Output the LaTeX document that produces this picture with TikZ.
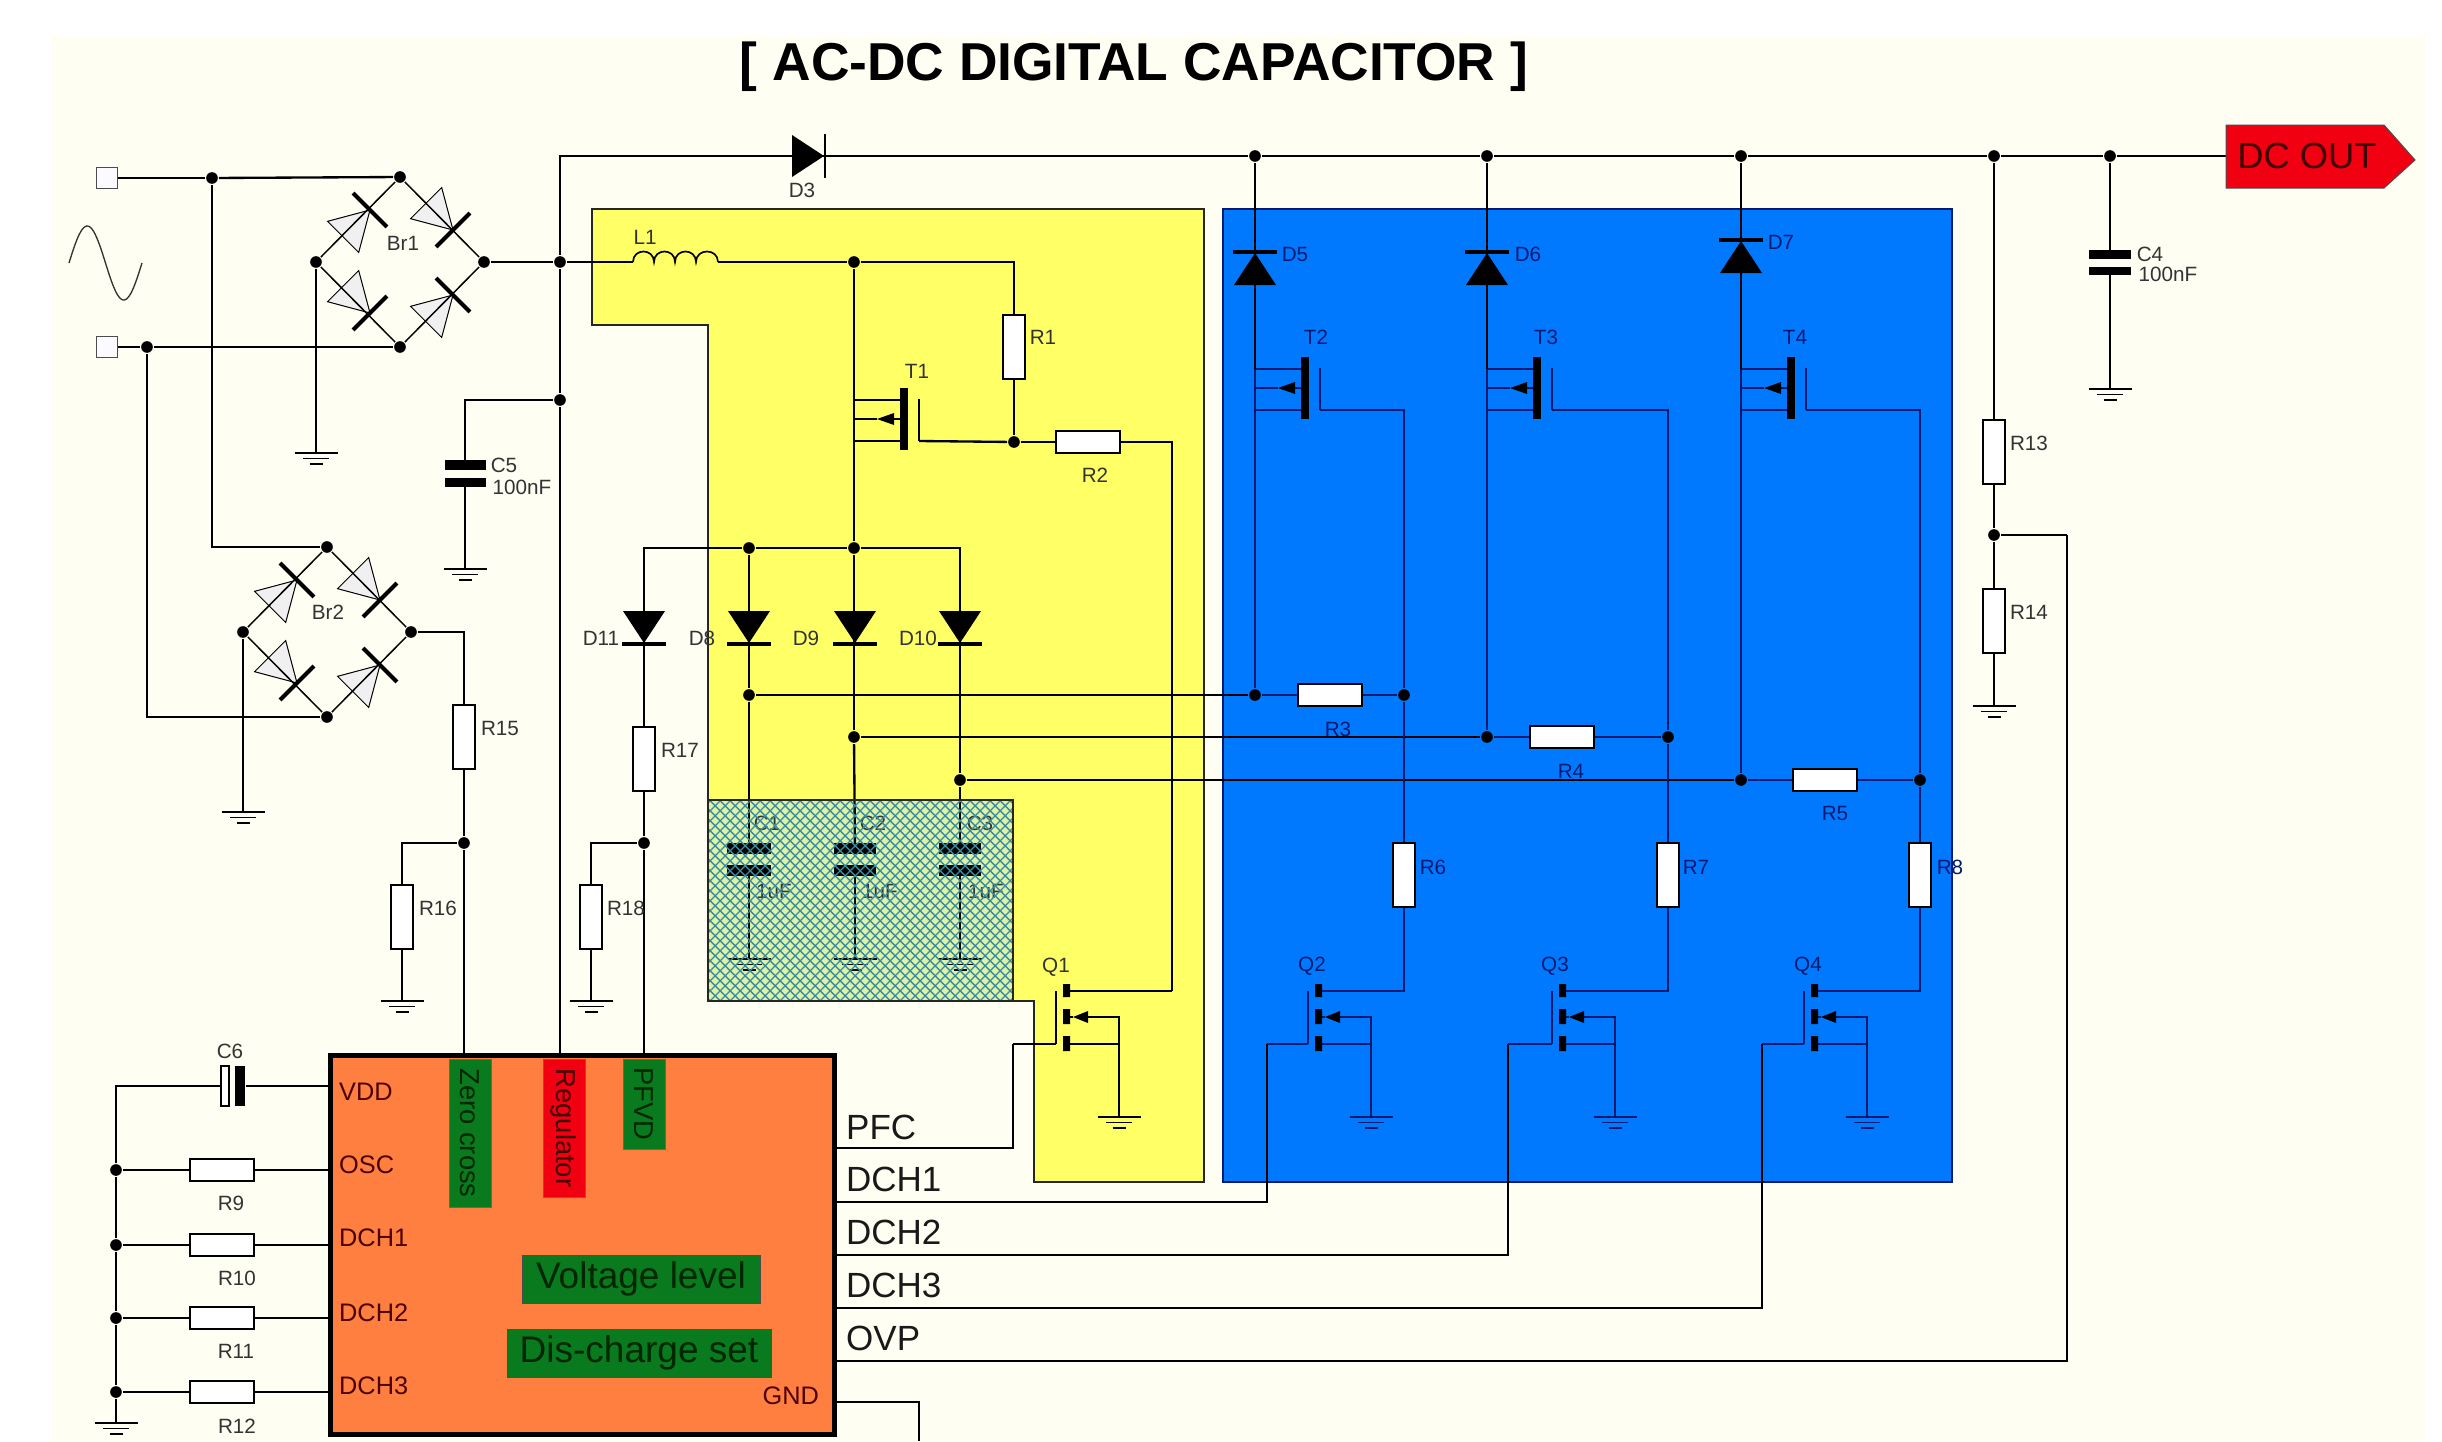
\documentclass[tikz,border=0pt]{standalone}
\usepackage{fontspec}
\setmainfont{Liberation Sans}
\usepackage{xcolor}
\usetikzlibrary{patterns}

\definecolor{cream}{HTML}{FEFEF2}
\definecolor{padyellow}{HTML}{FFFF66}
\definecolor{padblue}{HTML}{0079FF}
\definecolor{padhatch}{HTML}{DDF4A8}
\definecolor{hatchline}{HTML}{3A8AA0}
\definecolor{chiporange}{HTML}{FF7F40}
\definecolor{boxgreen}{HTML}{0A7A1E}
\definecolor{boxred}{HTML}{F00010}
\definecolor{navy}{HTML}{001A70}
\definecolor{labelgrey}{HTML}{333333}

\tikzset{
  hv/.style={to path={-| (\tikztotarget)}},
  vh/.style={to path={|- (\tikztotarget)}},
  pics/gnd/.style={code={
    \coordinate (-t) at (0,0);
    \draw[line width=.5pt] (-21.5,0) -- (21.5,0) (-13,5.5) -- (13,5.5) (-6.5,11) -- (6.5,11);
  }},
  pics/dio/.style={code={
    \fill (-21,0) -- (21,0) -- (0,32) -- cycle;
    \draw[line width=#1] (-22,33) -- (22,33);
  }},
  pics/capv/.style n args={3}{code={
    \coordinate (-a) at (0,-#3);
    \coordinate (-b) at (0,#3);
    \fill[black] (-#1,-#3) rectangle (#1,-#3-#2);
    \fill[black] (-#1,#3) rectangle (#1,#3+#2);
  }},
  pics/pfet/.style={code={
    \coordinate (-in) at (0,0);
    \coordinate (-low) at (0,41);
    \coordinate (-out) at (65,41);
    \draw (0,0) -- (46,0) (0,0) -- (0,41) -- (46,41) (0,19) -- (23,19) (40,19) -- (46,19);
    \fill[black] (23,19) -- (40,13) -- (40,25) -- cycle;
    \fill[black] (46,-12) rectangle (54,50);
    \draw (65,-1) -- (65,41);
  }},
  pics/nfet/.style={code={
    \coordinate (-d) at (14,0);
    \coordinate (-g) at (0,53);
    \coordinate (-b) at (63,26);
    \draw (0,0) -- (0,53) (14,53) -- (63,53) -- (63,26) -- (32,26) (14,26) -- (17,26);
    \fill[black] (17,26) -- (32,20) -- (32,32) -- cycle;
    \fill[black] (7,-7) rectangle (14,6) (7,18) rectangle (14,33) (7,45) rectangle (14,60);
  }},
  pics/brtri/.style={code={
    \draw[line width=.3pt, fill=gray!12] (0,0) -- (-38,-22) -- (-38,22) -- cycle;
  }},
  pics/brbar/.style={code={
    \draw[line width=1.2pt] (0,-24) -- (0,24);
  }},
  pics/bridge/.style={code={
    \pic[rotate=45] at (-30,-52) {brtri};
    \pic[rotate=-45] at (53,-32) {brtri};
    \pic[rotate=-45] at (-30,51) {brtri};
    \pic[rotate=45] at (53,33) {brtri};
    \node[dot] (-t) at (0,-85) {};
    \node[dot] (-l) at (-84,0) {};
    \node[dot] (-r) at (84,0) {};
    \node[dot] (-b) at (0,85) {};
    \path[line width=.45pt] (-t) edge (-l) (-l) edge (-b) (-b) edge (-r) (-r) edge (-t);
    \pic[rotate=45] at (-30,-52) {brbar};
    \pic[rotate=-45] at (53,-32) {brbar};
    \pic[rotate=-45] at (-30,51) {brbar};
    \pic[rotate=45] at (53,33) {brbar};
  }},
}

\begin{document}
\begin{tikzpicture}[x=0.3pt, y=-0.3pt, line width=.7pt, line join=miter]
\tikzstyle{dot}=[circle, fill=black, inner sep=0pt, minimum size=3.5pt]
\tikzstyle{resv}=[rectangle, draw, fill=white, line width=.5pt, inner sep=0pt, minimum width=6.6pt, minimum height=19.2pt]
\tikzstyle{resh}=[rectangle, draw, fill=white, line width=.5pt, inner sep=0pt, minimum width=19.2pt, minimum height=6.6pt]
\tikzstyle{lbl}=[inner sep=0pt, text=labelgrey, font=\fontsize{6.2}{7}\selectfont]
\tikzstyle{lblb}=[inner sep=0pt, text=navy, font=\fontsize{6.2}{7}\selectfont]
\tikzstyle{pinl}=[inner sep=0pt, anchor=west, text=black!70!red, font=\fontsize{7.6}{9}\selectfont]
\tikzstyle{outl}=[inner sep=0pt, anchor=west, text=black!90, font=\fontsize{10.5}{12}\selectfont]
\tikzstyle{vbox}=[rectangle, draw=black!60, line width=.3pt, rotate=-90, inner sep=0pt, minimum height=12.6pt, font=\fontsize{8.2}{10}\selectfont]
\tikzstyle{hbox}=[rectangle, draw=black!70, line width=.3pt, fill=boxgreen, text=black!85!green, inner sep=0pt, minimum height=14.4pt, font=\fontsize{11.1}{13}\selectfont]
\tikzstyle{term}=[rectangle, draw=black!70, fill=blue!2, line width=.4pt, inner sep=0pt, minimum size=6.3pt]

\useasboundingbox (0,0) rectangle (2442,1441);
\fill[white] (0,0) rectangle (2442,1441);
\fill[cream] (51,35) rectangle (2426,1441);
\draw[line width=.5pt, draw=black!85, fill=padyellow] (592,209) -- (1204,209) -- (1204,1182) -- (1034,1182) -- (1034,1001) -- (708,1001) -- (708,325) -- (592,325) -- cycle;
\draw[line width=.5pt, draw=navy, fill=padblue] (1223,209) rectangle (1952,1182);
\fill[padhatch] (708,800) rectangle (1013,1001);

\node[lbl, font=\bfseries\fontsize{16}{18}\selectfont, text=black] (title) at (1134,67) {[ AC-DC DIGITAL CAPACITOR ]};

\draw[line width=.4pt, draw=black!80] plot[domain=0:360, samples=60] ({69+\x/360*73},{263-37*sin(\x)});

\node[term] (inA) at (107,178) {};
\node[term] (inB) at (107,347) {};
\node[dot] (j1) at (212,178) {};
\node[dot] (j2) at (147,347) {};
\pic (Br1) at (400,262) {bridge};
\pic (Br2) at (327,632) {bridge};
\node[lbl] (lBr1) at (403,243) {Br1};
\node[lbl] (lBr2) at (328,612) {Br2};

\node[dot] (jm) at (560,262) {};
\node[dot] (j5) at (560,400) {};
\node[dot] (j7) at (854,262) {};
\node[dot] (j8) at (1014,442) {};
\node[dot] (j9) at (854,548) {};
\node[dot] (j10) at (749,548) {};
\node[dot] (j12) at (960,780) {};
\node[dot] (j13) at (749,695) {};
\node[dot] (j14) at (854,737) {};
\node[dot] (j15) at (464,843) {};
\node[dot] (j16) at (644,843) {};
\node[dot] (n1) at (1255,156) {};
\node[dot] (n2) at (1487,156) {};
\node[dot] (n3) at (1741,156) {};
\node[dot] (n4) at (1994,156) {};
\node[dot] (n5) at (2110,156) {};
\node[dot] (n6) at (1255,695) {};
\node[dot] (n7) at (1404,695) {};
\node[dot] (n8) at (1487,737) {};
\node[dot] (n9) at (1668,737) {};
\node[dot] (n10) at (1741,780) {};
\node[dot] (n11) at (1920,780) {};
\node[dot] (n12) at (1994,535) {};
\node[dot] (jL1) at (116,1170) {};
\node[dot] (jL2) at (116,1245) {};
\node[dot] (jL3) at (116,1318) {};
\node[dot] (jL4) at (116,1392) {};

\node[resv] (R1) at (1014,347) {};
\node[resh] (R2) at (1088,442) {};
\node[resh] (R3) at (1330,695) {};
\node[resh] (R4) at (1562,737) {};
\node[resh] (R5) at (1825,780) {};
\node[resv] (R6) at (1404,875) {};
\node[resv] (R7) at (1668,875) {};
\node[resv] (R8) at (1920,875) {};
\node[resh] (R9) at (222,1170) {};
\node[resh] (R10) at (222,1245) {};
\node[resh] (R11) at (222,1318) {};
\node[resh] (R12) at (222,1392) {};
\node[resv] (R13) at (1994,452) {};
\node[resv] (R14) at (1994,621) {};
\node[resv] (R15) at (464,737) {};
\node[resv] (R16) at (402,917) {};
\node[resv] (R17) at (644,759) {};
\node[resv] (R18) at (591,917) {};

\node[rectangle, draw, fill=white, line width=.4pt, inner sep=0pt, minimum width=2.4pt, minimum height=12pt] (C6a) at (225,1086) {};
\node[rectangle, fill=black, inner sep=0pt, minimum width=3pt, minimum height=12pt] (C6b) at (240,1086) {};

\pic (C1) at (749,859.5) {capv={22}{11}{5.5}};
\pic (C2) at (855,859.5) {capv={21}{11}{5.5}};
\pic (C3) at (960,859.5) {capv={21}{11}{5.5}};
\pic (C4) at (2110,262.5) {capv={21}{8.5}{4}};
\pic (C5) at (465,473.5) {capv={20.5}{9.5}{4}};

\pic (T1) at (854,400) {pfet};
\pic[color=navy] (T2) at (1255,369) {pfet};
\pic[color=navy] (T3) at (1487,369) {pfet};
\pic[color=navy] (T4) at (1741,369) {pfet};
\pic (Q1) at (1056,991) {nfet};
\pic[color=navy] (Q2) at (1308,991) {nfet};
\pic[color=navy] (Q3) at (1552,991) {nfet};
\pic[color=navy] (Q4) at (1804,991) {nfet};

\pic (G1) at (316,453) {gnd};
\pic (G2) at (243,812) {gnd};
\pic (G3) at (465,569) {gnd};
\pic (G4) at (402,1001) {gnd};
\pic (G5) at (591,1001) {gnd};
\pic (G6) at (116,1423) {gnd};
\pic (G7) at (749,959) {gnd};
\pic (G8) at (855,959) {gnd};
\pic (G9) at (960,959) {gnd};
\pic (G10) at (1119,1117) {gnd};
\pic[color=navy] (G11) at (1371,1117) {gnd};
\pic[color=navy] (G12) at (1615,1117) {gnd};
\pic[color=navy] (G13) at (1867,1117) {gnd};
\pic (G14) at (2110,389) {gnd};
\pic (G15) at (1994,706) {gnd};

\coordinate (L1a) at (633,262);
\coordinate (L1b) at (718,262);
\coordinate (Q1bend) at (1172,991);
\coordinate (bQ1) at (1013,1044);
\coordinate (bQ2) at (1267,1044);
\coordinate (bQ3) at (1508,1044);
\coordinate (bQ4) at (1762,1044);
\coordinate (bOVP) at (2067,535);
\coordinate (gndend) at (919,1441);
\coordinate (dcin) at (2226,156);
\coordinate (pinZ) at (464,1055);
\coordinate (pinR) at (560,1055);
\coordinate (pinP) at (644,1055);
\coordinate (pinVDD) at (330,1086);
\coordinate (pinOSC) at (330,1170);
\coordinate (pinD1) at (330,1245);
\coordinate (pinD2) at (330,1318);
\coordinate (pinD3) at (330,1392);
\coordinate (pinPFC) at (834,1148);
\coordinate (pinDCH1) at (834,1202);
\coordinate (pinDCH2) at (834,1255);
\coordinate (pinDCH3) at (834,1308);
\coordinate (pinOVP) at (834,1361);
\coordinate (pinGND) at (834,1402);

\path
(inA) edge (j1)
(j1) edge (Br1-t)
(inB) edge (j2)
(j2) edge (Br1-b)
(j1) edge[vh] (Br2-t)
(j2) edge[vh] (Br2-b)
(Br1-l) edge (G1-t)
(Br2-l) edge (G2-t)
(Br1-r) edge (jm)
(jm) edge (L1a)
(jm) edge[vh] (n1)
(jm) edge (j5)
(j5) edge (pinR)
(j5) edge[hv] (C5-a)
(C5-b) edge (G3-t)
(Br2-r) edge[hv] (R15)
(R15) edge (j15)
(j15) edge (pinZ)
(j15) edge[hv] (R16)
(R16) edge (G4-t)
(j16) edge (pinP)
(j16) edge[hv] (R18)
(R18) edge (G5-t)
(R17) edge (j16)

(L1b) edge (j7)
(j7) edge[hv] (R1)
(R1) edge (j8)
(j7) edge (T1-in)
(T1-low) edge (j9)
(T1-out) edge (j8)
(j8) edge (R2)
(R2) edge[hv] (Q1bend)
(Q1bend) edge (Q1-d)
(Q1-b) edge (G10-t)
(pinPFC) edge[hv] (bQ1)
(bQ1) edge (Q1-g)

(j9) edge (j10)
(j10) edge[hv] (R17)
(j9) edge[hv] (j12)
(j10) edge (j13)
(j9) edge (j14)
(j13) edge (C1-a)
(j14) edge (C2-a)
(j12) edge (C3-a)
(C1-b) edge (G7-t)
(C2-b) edge (G8-t)
(C3-b) edge (G9-t)

(j13) edge (n6)
(j14) edge (n8)
(j12) edge (n10)
(n1) edge (T2-in)
(n2) edge (T3-in)
(n3) edge (T4-in)
(pinDCH1) edge[hv] (bQ2)
(pinDCH2) edge[hv] (bQ3)
(pinDCH3) edge[hv] (bQ4)

(n1) edge (n2)
(n2) edge (n3)
(n3) edge (n4)
(n4) edge (n5)
(n5) edge (dcin)
(n5) edge (C4-a)
(C4-b) edge (G14-t)
(n4) edge (R13)
(R13) edge (n12)
(n12) edge (R14)
(R14) edge (G15-t)
(pinOVP) edge[hv] (bOVP)
(bOVP) edge (n12)
(pinGND) edge[hv] (gndend)

(C6a) edge[hv] (jL1)
(C6b) edge (pinVDD)
(jL1) edge (jL2)
(jL2) edge (jL3)
(jL3) edge (jL4)
(jL4) edge (G6-t)
(jL1) edge (R9)
(jL2) edge (R10)
(jL3) edge (R11)
(jL4) edge (R12)
(R9) edge (pinOSC)
(R10) edge (pinD1)
(R11) edge (pinD2)
(R12) edge (pinD3);

\path[color=navy]
(n6) edge (R3)
(R3) edge (n7)
(n8) edge (R4)
(R4) edge (n9)
(n10) edge (R5)
(R5) edge (n11)
(T2-low) edge (n6)
(T3-low) edge (n8)
(T4-low) edge (n10)
(T2-out) edge[hv] (n7)
(T3-out) edge[hv] (n9)
(T4-out) edge[hv] (n11)
(n7) edge (R6)
(n9) edge (R7)
(n11) edge (R8)
(R6) edge[vh] (Q2-d)
(R7) edge[vh] (Q3-d)
(R8) edge[vh] (Q4-d)
(Q2-b) edge (G11-t)
(Q3-b) edge (G12-t)
(Q4-b) edge (G13-t)
(bQ2) edge (Q2-g)
(bQ3) edge (Q3-g)
(bQ4) edge (Q4-g);

\draw[line width=.5pt] (L1a)
 .. controls (633,248) and (654,248) .. (654,262)
 .. controls (654,248) and (675,248) .. (675,262)
 .. controls (675,248) and (696,248) .. (696,262)
 .. controls (696,248) and (718,248) .. (L1b);

\pic[rotate=90] (D3) at (792,156) {dio=.8pt};
\pic[rotate=180] (D5) at (1255,285) {dio=1.4pt};
\pic[rotate=180] (D6) at (1487,285) {dio=1.4pt};
\pic[rotate=180] (D7) at (1741,273) {dio=1.4pt};
\pic (D8) at (749,611) {dio=1.3pt};
\pic (D9) at (855,611) {dio=1.3pt};
\pic (D10) at (960,611) {dio=1.3pt};
\pic (D11) at (644,611) {dio=1.3pt};

\node[lbl] (lC1) at (767,823) {C1};
\node[lbl] (lC2) at (873,823) {C2};
\node[lbl] (lC3) at (980,823) {C3};
\node[lbl] (lU1) at (774,891) {1uF};
\node[lbl] (lU2) at (880,891) {1uF};
\node[lbl] (lU3) at (986,891) {1uF};
\path[pattern=crosshatch, pattern color=hatchline] (708,800) rectangle (1013,1001);
\draw[line width=.5pt, draw=black!85] (708,800) rectangle (1013,1001);

\node[lbl] (lL1) at (645,237) {L1};
\node[lbl] (lD3) at (802,190) {D3};
\node[lbl] (lR1) at (1043,337) {R1};
\node[lbl] (lT1) at (917,371) {T1};
\node[lbl] (lR2) at (1095,475) {R2};
\node[lbl] (lD11) at (601,638) {D11};
\node[lbl] (lD8) at (702,638) {D8};
\node[lbl] (lD9) at (806,638) {D9};
\node[lbl] (lD10) at (918,638) {D10};
\node[lbl] (lQ1) at (1056,967) {Q1};
\node[lbl] (lC5) at (504,465) {C5};
\node[lbl] (lC5v) at (522,487) {100nF};
\node[lbl] (lC4) at (2150,254) {C4};
\node[lbl] (lC4v) at (2168,274) {100nF};
\node[lbl] (lR13) at (2029,443) {R13};
\node[lbl] (lR14) at (2029,612) {R14};
\node[lbl] (lR15) at (500,728) {R15};
\node[lbl] (lR16) at (438,908) {R16};
\node[lbl] (lR17) at (680,750) {R17};
\node[lbl] (lR18) at (626,908) {R18};
\node[lbl] (lC6) at (230,1051) {C6};
\node[lbl] (lR9) at (231,1203) {R9};
\node[lbl] (lR10) at (237,1278) {R10};
\node[lbl] (lR11) at (236,1351) {R11};
\node[lbl] (lR12) at (237,1426) {R12};

\node[lblb] (lD5) at (1295,254) {D5};
\node[lblb] (lD6) at (1528,254) {D6};
\node[lblb] (lD7) at (1781,242) {D7};
\node[lblb] (lT2) at (1316,337) {T2};
\node[lblb] (lT3) at (1546,337) {T3};
\node[lblb] (lT4) at (1795,337) {T4};
\node[lblb] (lR3) at (1338,729) {R3};
\node[lblb] (lR4) at (1571,771) {R4};
\node[lblb] (lR5) at (1835,813) {R5};
\node[lblb] (lR6) at (1433,867) {R6};
\node[lblb] (lR7) at (1696,867) {R7};
\node[lblb] (lR8) at (1950,867) {R8};
\node[lblb] (lQ2) at (1312,966) {Q2};
\node[lblb] (lQ3) at (1555,966) {Q3};
\node[lblb] (lQ4) at (1808,966) {Q4};

\draw[line width=.3pt, draw=black!70, fill=boxred] (2226,125) -- (2384,125) -- (2415,160) -- (2384,188) -- (2226,188) -- cycle;
\node[inner sep=0pt, text=black!75!red, font=\fontsize{10.9}{12}\selectfont] (dcout) at (2307,156) {DC OUT};

\node[rectangle, draw=black, line width=1.5pt, fill=chiporange, inner sep=0pt, minimum width=151.2pt, minimum height=113.7pt] (ic) at (582,1244.5) {};
\node[vbox, fill=boxgreen, text=black!85!green, minimum width=44.4pt] (bZero) at (470,1133) {Zero cross};
\node[vbox, fill=boxred, text=black!75!red, minimum width=41.4pt] (bReg) at (564,1128) {Regulator};
\node[vbox, fill=boxgreen, text=black!85!green, minimum width=27pt] (bPfvd) at (644,1104) {PFVD};
\node[hbox, minimum width=71.4pt] (bVolt) at (641,1279) {Voltage level};
\node[hbox, minimum width=79.2pt] (bDis) at (639,1353) {Dis-charge set};

\node[pinl] (pVDD) at (338,1092) {VDD};
\node[pinl] (pOSC) at (338,1165) {OSC};
\node[pinl] (pD1) at (338,1238) {DCH1};
\node[pinl] (pD2) at (338,1313) {DCH2};
\node[pinl] (pD3) at (338,1386) {DCH3};
\node[pinl, anchor=east] (pGND) at (820,1396) {GND};

\node[outl] (oPFC) at (845,1127) {PFC};
\node[outl] (oD1) at (845,1179) {DCH1};
\node[outl] (oD2) at (845,1232) {DCH2};
\node[outl] (oD3) at (845,1285) {DCH3};
\node[outl] (oOVP) at (845,1338) {OVP};
\end{tikzpicture}
\end{document}
